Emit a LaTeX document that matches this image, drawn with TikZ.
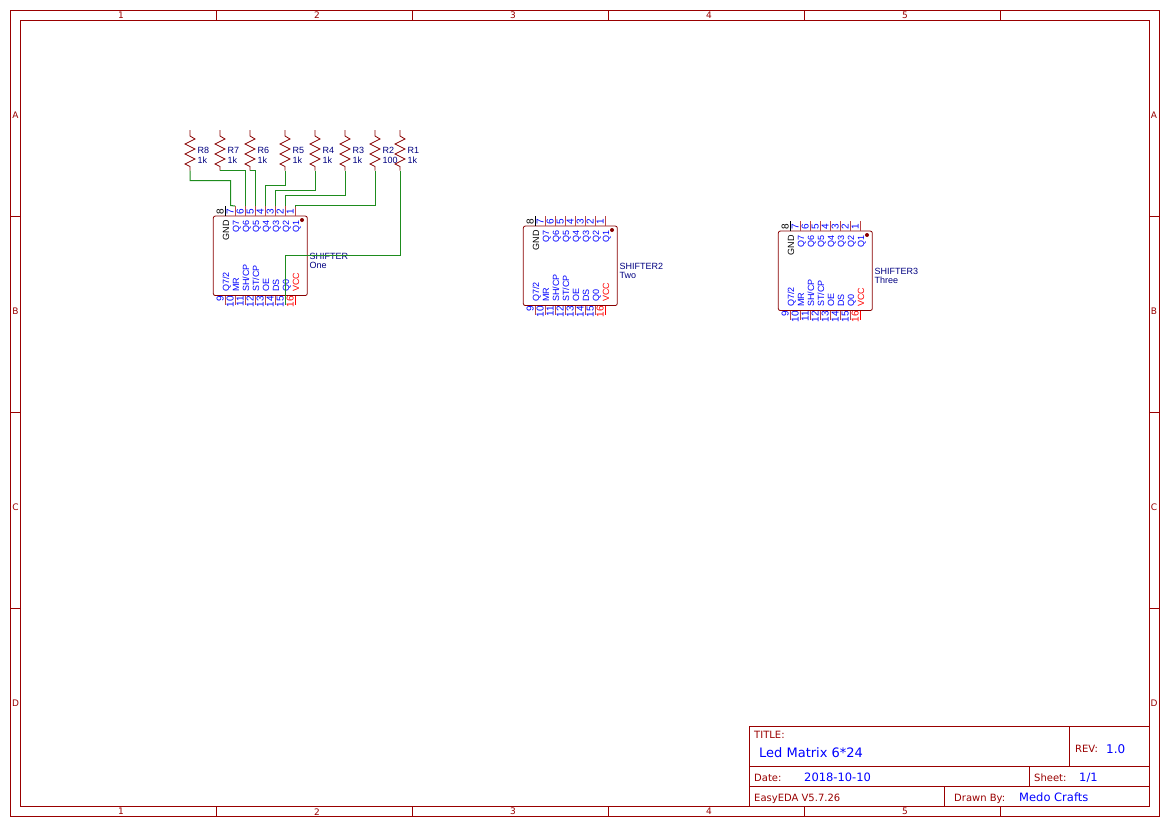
\documentclass[tikz,border=0pt]{standalone}
\usepackage{fontspec}
\setmainfont{DejaVu Sans}
\newfontfamily\schfont{Liberation Sans}
\definecolor{framered}{HTML}{990000}
\definecolor{partred}{HTML}{880000}
\definecolor{pinred}{HTML}{BB4444}
\definecolor{wiregreen}{HTML}{1E8C1E}
\definecolor{namenavy}{HTML}{000080}
\definecolor{valblue}{HTML}{0000FF}
\tikzset{
frame/.style={draw=framered, line width=0.9pt},
tick/.style={font=\fontsize{9}{9}\selectfont, text=framered, inner sep=0pt},
caption/.style={font=\fontsize{10}{10}\selectfont, text=framered, inner sep=0pt, anchor=base west},
filled/.style={font=\fontsize{#1}{#1}\selectfont, text=valblue, inner sep=0pt, anchor=base west},
part/.style={draw=partred, line width=0.8pt},
wire/.style={draw=wiregreen, line width=1pt},
chip/.style={part, rounded corners=2pt, minimum width=94pt, minimum height=79.5pt, inner sep=0pt},
sch/.style={font=\schfont\fontsize{9}{9}\selectfont, inner sep=0pt},
pinnum/.style={font=\schfont\fontsize{10}{10}\selectfont, inner sep=0pt},
}
\begin{document}
\begin{tikzpicture}[x=1pt,y=-1pt]
\useasboundingbox (0,0) rectangle (1169,827);
% sheet border
\draw[frame] (10.5,10.5) rectangle (1159,816.7);
\draw[frame] (20.5,20.5) rectangle (1149,806.7);
\foreach \x in {216,412,608,804,1000} {
\draw[frame] (\x,10.5)--(\x,20.5);
\draw[frame] (\x,806.7)--(\x,816.7);
}
\foreach \y in {216.5,412.5,608.5} {
\draw[frame] (10.5,\y)--(20.5,\y);
\draw[frame] (1149,\y)--(1159,\y);
}
\foreach \x/\t in {121/1,317/2,513/3,709/4,905/5} {
\node (top_\t) at (\x,15.5) [tick] {\t};
\node (bot_\t) at (\x,811.7) [tick] {\t};
}
\foreach \y/\t in {115/A,311/B,507/C,703/D} {
\node (lft_\t) at (15.5,\y) [tick] {\t};
\node (rgt_\t) at (1154,\y) [tick] {\t};
}
% title block
\draw[frame] (749,726.7) rectangle (1149,806.7);
\draw[frame] (749,766.7)--(1149,766.7);
\draw[frame] (749,786.7)--(1149,786.7);
\draw[frame] (1069,726.7)--(1069,766.7);
\draw[frame] (1029,766.7)--(1029,786.7);
\draw[frame] (944,786.7)--(944,806.7);
\node (title) at (754,738.5) [caption] {TITLE:};
\node (title_v) at (759,757) [filled=13] {Led Matrix 6*24};
\node (rev) at (1075,752.5) [caption] {REV:};
\node (rev_v) at (1106,753) [filled=12] {1.0};
\node (date) at (754,781.5) [caption] {Date:};
\node (date_v) at (804,781) [filled=11.5] {2018-10-10};
\node (sheet) at (1034,781.5) [caption] {Sheet:};
\node (sheet_v) at (1079,781) [filled=11.5] {1/1};
\node (eda) at (754,801.5) [caption] {EasyEDA V5.7.26};
\node (drawn) at (954,801.5) [caption] {Drawn By:};
\node (drawn_v) at (1019,801) [filled=11.5] {Medo Crafts};
% resistors
\foreach \x/\n/\v in {190/8/1k,220/7/1k,250/6/1k,285/5/1k,315/4/1k,345/3/1k,375/2/100,400/1/1k} {
\coordinate (r_\n_t) at (\x,130);
\coordinate (r_\n_b) at (\x,170.5);
\draw[part] (r_\n_t)--++(0,6)--++(5,3)--++(-10,5)--++(10,5)--++(-10,5)--++(10,5)--++(-10,5)--++(5,2.5)--(r_\n_b);
\node (r_\n_name) at (\x+7.5,153.5) [sch, anchor=base west, text=namenavy] {R\n};
\node (r_\n_val) at (\x+7.5,163) [sch, anchor=base west, text=namenavy] {\v};
}
% shifters
\foreach \u/\dx/\dy/\nm/\val in {u_1/0/0/SHIFTER/One,u_2/310/10/SHIFTER2/Two,u_3/565/15/SHIFTER3/Three} {
\begin{scope}[shift={(\dx,\dy)}]
\node (\u) at (260.3,255.8) [chip] {};
\fill[partred] (302,220) circle (2pt);
\node (\u_nm) at (309.3,259) [sch, anchor=base west, text=namenavy] {\nm};
\node (\u_val) at (309.3,268) [sch, anchor=base west, text=namenavy] {\val};
\foreach \x/\n/\lab/\col/\pcol in {295/1/Q1/valblue/pinred,285/2/Q2/valblue/pinred,275/3/Q3/valblue/pinred,265/4/Q4/valblue/pinred,255/5/Q5/valblue/pinred,245/6/Q6/valblue/pinred,235/7/Q7/valblue/pinred,225/8/GND/black/black} {
\coordinate (\u_p\n) at (\x,206);
\draw[draw=\pcol, line width=0.8pt] (\u_p\n)--(\x,216);
\node (\u_num\n) at (\x-1.5,215) [pinnum, rotate=90, anchor=base west, text=\col] {\n};
\node (\u_lab\n) at (\x+4,220) [sch, rotate=90, anchor=base east, text=\col] {\lab};
}
\foreach \x/\n/\lab/\col/\pcol in {225/9/{Q7/2}/valblue/pinred,235/10/MR/valblue/pinred,245/11/{SH/CP}/valblue/pinred,255/12/{ST/CP}/valblue/pinred,265/13/OE/valblue/pinred,275/14/DS/valblue/pinred,285/15/Q0/valblue/pinred,295/16/VCC/red/red} {
\coordinate (\u_p\n) at (\x,305);
\draw[draw=\pcol, line width=0.8pt] (\x,295.5)--(\u_p\n);
\node (\u_num\n) at (\x-1.5,296) [pinnum, rotate=90, anchor=base east, text=\col] {\n};
\node (\u_lab\n) at (\x+4,292) [sch, rotate=90, anchor=base west, text=\col] {\lab};
}
\end{scope}
}
% nets
\draw[wire] (r_8_b)--++(0,10)-|(230.5,205.5)--(u_1_p7);
\draw[wire] (r_7_b)-|(u_1_p6);
\draw[wire] (r_6_b)-|(u_1_p5);
\draw[wire] (r_5_b)--++(0,15)-|(u_1_p4);
\draw[wire] (r_4_b)--++(0,20)-|(u_1_p3);
\draw[wire] (r_3_b)--++(0,25)-|(u_1_p2);
\draw[wire] (r_2_b)--++(0,35)-|(u_1_p1);
\draw[wire] (r_1_b)--++(0,85)-|(u_1_p15);
\end{tikzpicture}
\end{document}
